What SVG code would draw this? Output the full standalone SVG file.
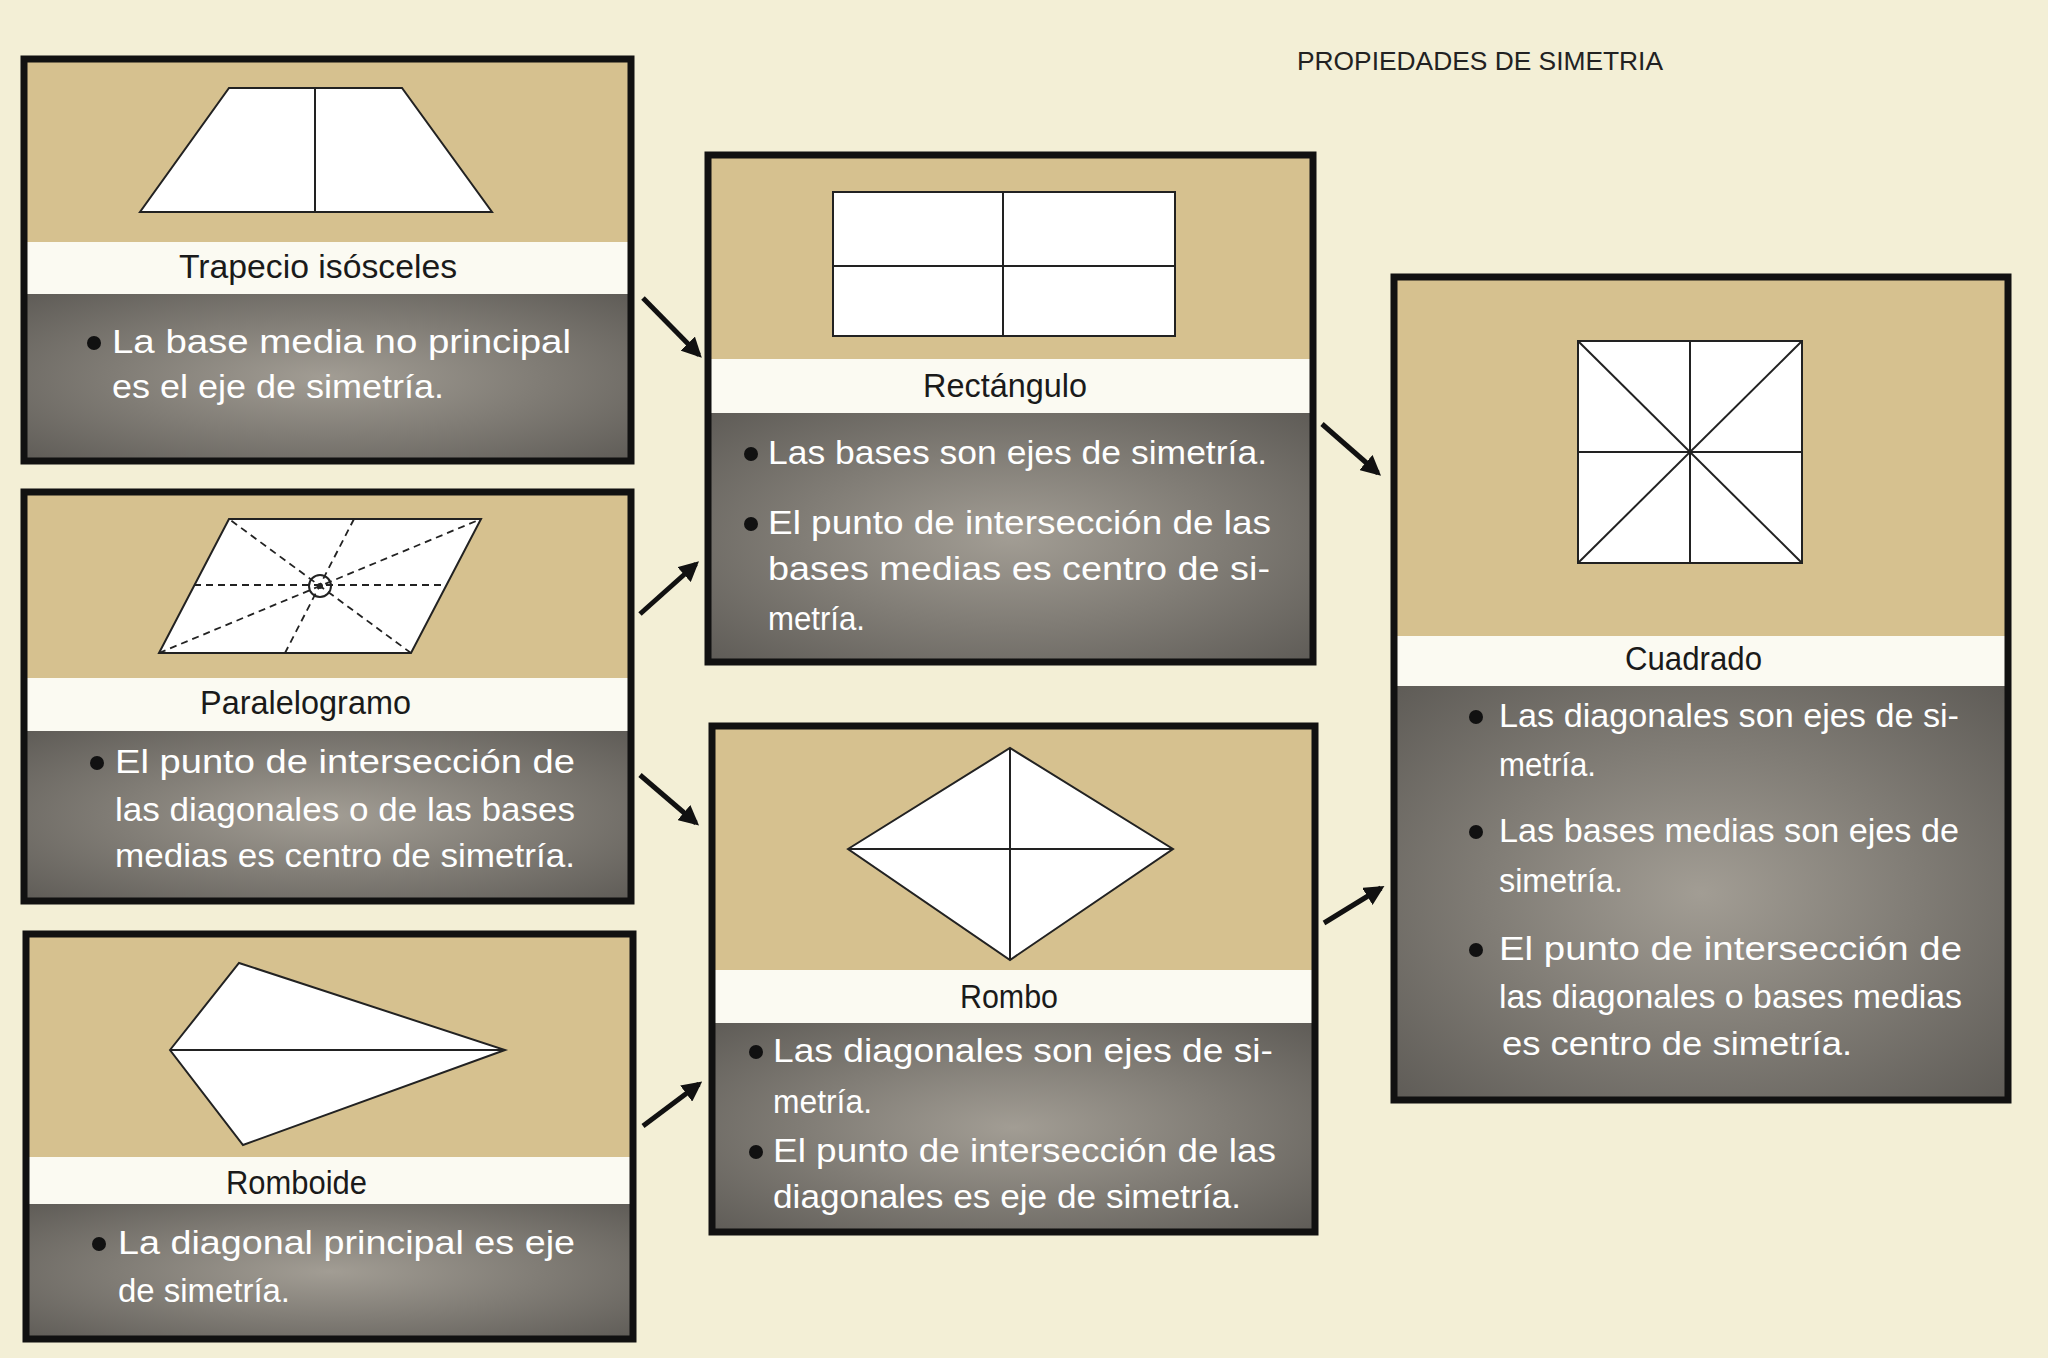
<svg xmlns="http://www.w3.org/2000/svg" width="2048" height="1358" viewBox="0 0 2048 1358">
<style>
.frame{stroke:#111;stroke-width:7;fill:none}
.tan{fill:#d6c18f}
.strip{fill:#fbfaf2}
.gray{fill:url(#g)}
.shape{fill:#fff;stroke:#222;stroke-width:2}
.ln{stroke:#222;stroke-width:2;fill:none}
.dash{stroke:#222;stroke-width:1.8;stroke-dasharray:7 5;fill:none}
.lbl{font-family:"Liberation Sans",sans-serif;font-size:34px;fill:#1a1a1a}
.txt{font-family:"Liberation Sans",sans-serif;font-size:33px;fill:#fff}
.bul{fill:#111}
.arr{stroke:#111;stroke-width:5;fill:none;marker-end:url(#ah)}
</style>
<defs>
<radialGradient id="g" cx="50%" cy="50%" r="70%"><stop offset="0" stop-color="#a29d94"/><stop offset="1" stop-color="#5f5c57"/></radialGradient>
<marker id="ah" viewBox="0 0 10 10" refX="8" refY="5" markerWidth="4" markerHeight="4" orient="auto"><path d="M0,0L10,5L0,10z" fill="#111"/></marker>
</defs>
<rect width="2048" height="1358" fill="#f3efd6"/>
<text x="1297" y="70" font-family="Liberation Sans,sans-serif" font-size="26" fill="#222" textLength="366" lengthAdjust="spacingAndGlyphs">PROPIEDADES DE SIMETRIA</text>

<g id="trapecio">
<rect class="tan" x="24" y="59" width="607" height="183"/>
<rect class="strip" x="24" y="242" width="607" height="52"/>
<rect class="gray" x="24" y="294" width="607" height="167"/>
<rect class="frame" x="24" y="59" width="607" height="402"/>
<polygon class="shape" points="140,212 492,212 402,88 229,88"/>
<line class="ln" x1="315" y1="88" x2="315" y2="212"/>
<text class="lbl" x="179" y="278" textLength="278" lengthAdjust="spacingAndGlyphs">Trapecio isósceles</text>
<circle class="bul" cx="94" cy="343" r="7"/>
<text class="txt" x="112" y="353" textLength="459" lengthAdjust="spacingAndGlyphs">La base media no principal</text>
<text class="txt" x="112" y="398" textLength="332" lengthAdjust="spacingAndGlyphs">es el eje de simetría.</text>
</g>

<g id="paralelogramo">
<rect class="tan" x="24" y="492" width="607" height="186"/>
<rect class="strip" x="24" y="678" width="607" height="53"/>
<rect class="gray" x="24" y="731" width="607" height="170"/>
<rect class="frame" x="24" y="492" width="607" height="409"/>
<polygon class="shape" points="159,653 411,653 481,519 229,519"/>
<line class="dash" x1="194" y1="585" x2="446" y2="585"/>
<line class="dash" x1="159" y1="653" x2="481" y2="519"/>
<line class="dash" x1="411" y1="653" x2="229" y2="519"/>
<line class="dash" x1="354" y1="519" x2="285" y2="653"/>
<circle cx="320" cy="586" r="11" fill="none" stroke="#222" stroke-width="2"/>
<circle cx="320" cy="586" r="3" fill="#222"/>
<text class="lbl" x="200" y="714" textLength="211" lengthAdjust="spacingAndGlyphs">Paralelogramo</text>
<circle class="bul" cx="97" cy="763" r="7"/>
<text class="txt" x="115" y="773" textLength="460" lengthAdjust="spacingAndGlyphs">El punto de intersección de</text>
<text class="txt" x="115" y="821" textLength="460" lengthAdjust="spacingAndGlyphs">las diagonales o de las bases</text>
<text class="txt" x="115" y="867" textLength="460" lengthAdjust="spacingAndGlyphs">medias es centro de simetría.</text>
</g>

<g id="romboide">
<rect class="tan" x="26" y="934" width="607" height="223"/>
<rect class="strip" x="26" y="1157" width="607" height="47"/>
<rect class="gray" x="26" y="1204" width="607" height="135"/>
<rect class="frame" x="26" y="934" width="607" height="405"/>
<polygon class="shape" points="170,1050 239,963 505,1050 243,1145"/>
<line class="ln" x1="170" y1="1050" x2="505" y2="1050"/>
<text class="lbl" x="226" y="1194" textLength="141" lengthAdjust="spacingAndGlyphs">Romboide</text>
<circle class="bul" cx="99" cy="1244" r="7"/>
<text class="txt" x="118" y="1254" textLength="457" lengthAdjust="spacingAndGlyphs">La diagonal principal es eje</text>
<text class="txt" x="118" y="1302" textLength="172" lengthAdjust="spacingAndGlyphs">de simetría.</text>
</g>

<g id="rectangulo">
<rect class="tan" x="708" y="155" width="605" height="204"/>
<rect class="strip" x="708" y="359" width="605" height="54"/>
<rect class="gray" x="708" y="413" width="605" height="249"/>
<rect class="frame" x="708" y="155" width="605" height="507"/>
<rect class="shape" x="833" y="192" width="342" height="144"/>
<line class="ln" x1="1003" y1="192" x2="1003" y2="336"/>
<line class="ln" x1="833" y1="266" x2="1175" y2="266"/>
<text class="lbl" x="923" y="397" textLength="164" lengthAdjust="spacingAndGlyphs">Rectángulo</text>
<circle class="bul" cx="751" cy="454" r="7"/>
<text class="txt" x="768" y="464" textLength="499" lengthAdjust="spacingAndGlyphs">Las bases son ejes de simetría.</text>
<circle class="bul" cx="751" cy="524" r="7"/>
<text class="txt" x="768" y="534" textLength="503" lengthAdjust="spacingAndGlyphs">El punto de intersección de las</text>
<text class="txt" x="768" y="580" textLength="502" lengthAdjust="spacingAndGlyphs">bases medias es centro de si-</text>
<text class="txt" x="768" y="630" textLength="97" lengthAdjust="spacingAndGlyphs">metría.</text>
</g>

<g id="rombo">
<rect class="tan" x="712" y="726" width="603" height="244"/>
<rect class="strip" x="712" y="970" width="603" height="53"/>
<rect class="gray" x="712" y="1023" width="603" height="209"/>
<rect class="frame" x="712" y="726" width="603" height="506"/>
<polygon class="shape" points="848,849 1010,748 1173,849 1010,960"/>
<line class="ln" x1="848" y1="849" x2="1173" y2="849"/>
<line class="ln" x1="1010" y1="748" x2="1010" y2="960"/>
<text class="lbl" x="960" y="1008" textLength="98" lengthAdjust="spacingAndGlyphs">Rombo</text>
<circle class="bul" cx="756" cy="1052" r="7"/>
<text class="txt" x="773" y="1062" textLength="500" lengthAdjust="spacingAndGlyphs">Las diagonales son ejes de si-</text>
<text class="txt" x="773" y="1113" textLength="99" lengthAdjust="spacingAndGlyphs">metría.</text>
<circle class="bul" cx="756" cy="1152" r="7"/>
<text class="txt" x="773" y="1162" textLength="503" lengthAdjust="spacingAndGlyphs">El punto de intersección de las</text>
<text class="txt" x="773" y="1208" textLength="468" lengthAdjust="spacingAndGlyphs">diagonales es eje de simetría.</text>
</g>

<g id="cuadrado">
<rect class="tan" x="1394" y="277" width="614" height="359"/>
<rect class="strip" x="1394" y="636" width="614" height="50"/>
<rect class="gray" x="1394" y="686" width="614" height="414"/>
<rect class="frame" x="1394" y="277" width="614" height="823"/>
<rect class="shape" x="1578" y="341" width="224" height="222"/>
<line class="ln" x1="1690" y1="341" x2="1690" y2="563"/>
<line class="ln" x1="1578" y1="452" x2="1802" y2="452"/>
<line class="ln" x1="1578" y1="341" x2="1802" y2="563"/>
<line class="ln" x1="1802" y1="341" x2="1578" y2="563"/>
<text class="lbl" x="1625" y="670" textLength="137" lengthAdjust="spacingAndGlyphs">Cuadrado</text>
<circle class="bul" cx="1476" cy="717" r="7"/>
<text class="txt" x="1499" y="727" textLength="460" lengthAdjust="spacingAndGlyphs">Las diagonales son ejes de si-</text>
<text class="txt" x="1499" y="776" textLength="97" lengthAdjust="spacingAndGlyphs">metría.</text>
<circle class="bul" cx="1476" cy="832" r="7"/>
<text class="txt" x="1499" y="842" textLength="460" lengthAdjust="spacingAndGlyphs">Las bases medias son ejes de</text>
<text class="txt" x="1499" y="892" textLength="124" lengthAdjust="spacingAndGlyphs">simetría.</text>
<circle class="bul" cx="1476" cy="950" r="7"/>
<text class="txt" x="1499" y="960" textLength="463" lengthAdjust="spacingAndGlyphs">El punto de intersección de</text>
<text class="txt" x="1499" y="1008" textLength="463" lengthAdjust="spacingAndGlyphs">las diagonales o bases medias</text>
<text class="txt" x="1502" y="1055" textLength="350" lengthAdjust="spacingAndGlyphs">es centro de simetría.</text>
</g>

<g id="connectors">
<line class="arr" x1="643" y1="298" x2="699" y2="355"/>
<line class="arr" x1="640" y1="614" x2="696" y2="564"/>
<line class="arr" x1="640" y1="775" x2="696" y2="823"/>
<line class="arr" x1="643" y1="1126" x2="699" y2="1084"/>
<line class="arr" x1="1322" y1="424" x2="1378" y2="473"/>
<line class="arr" x1="1324" y1="923" x2="1381" y2="888"/>
</g>
</svg>
